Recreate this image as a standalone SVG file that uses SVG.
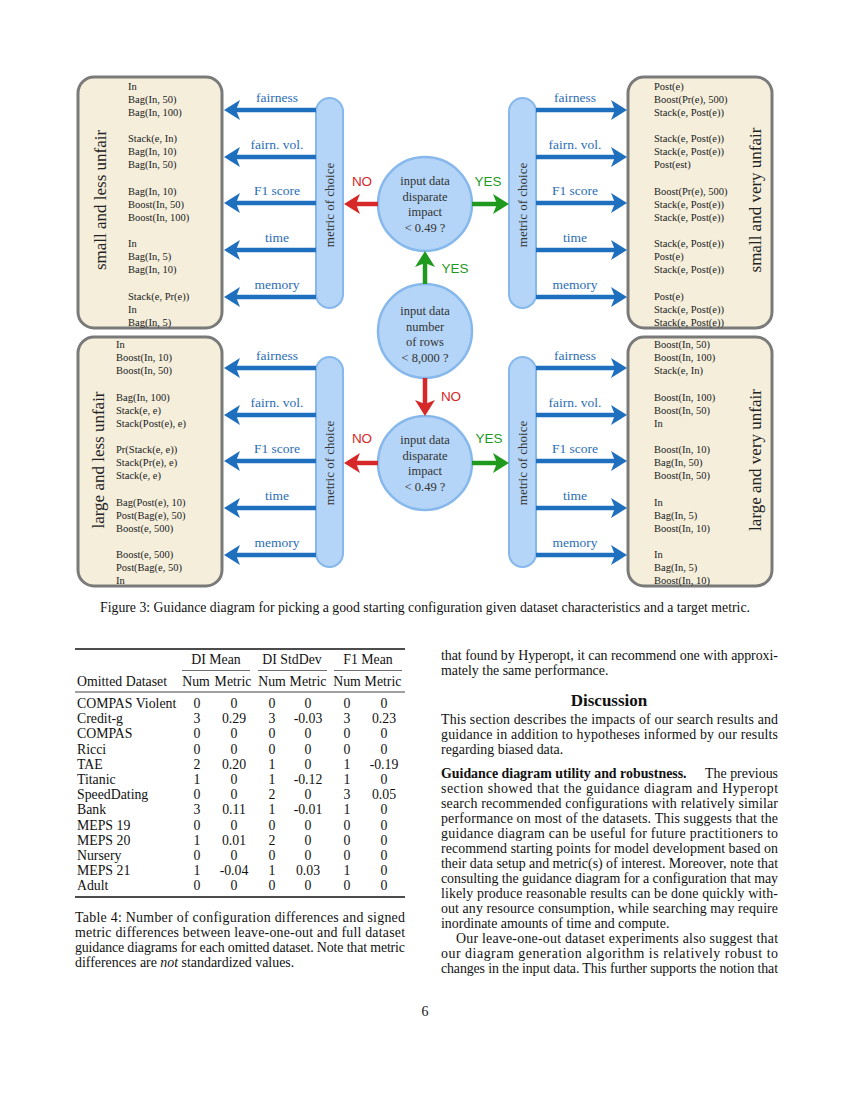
<svg xmlns="http://www.w3.org/2000/svg" width="850" height="1100" viewBox="0 0 850 1100">
<style>
.box{fill:#f4eedb;stroke:#7a7a7a;stroke-width:3}
.bar{fill:#b4d5f7;stroke:#86b8ec;stroke-width:2}
.circ{fill:#b4d5f7;stroke:#86b8ec;stroke-width:2.5}
.lst{font-family:"Liberation Serif",serif;font-size:10.5px;fill:#222}
.vlab{font-family:"Liberation Serif",serif;font-size:17px;fill:#222;text-anchor:middle}
.mlab{font-family:"Liberation Serif",serif;font-size:13px;fill:#333;text-anchor:middle}
.ctext{font-family:"Liberation Serif",serif;font-size:12.5px;fill:#333;text-anchor:middle}
.blab{font-family:"Liberation Serif",serif;font-size:13.5px;fill:#2b6db5;text-anchor:middle}
.no{font-family:"Liberation Sans",sans-serif;font-size:13.5px;fill:#d62828;text-anchor:middle}
.yes{font-family:"Liberation Sans",sans-serif;font-size:13.5px;fill:#1f9a1f;text-anchor:middle}
.ab{stroke:#1f6fbf;stroke-width:4.5;fill:none}
.ar{stroke:#d62828;stroke-width:4.5;fill:none}
.ag{stroke:#1f9a1f;stroke-width:4.5;fill:none}
.body{font-family:"Liberation Serif",serif;font-size:13.9px;fill:#111}
.tb{font-family:"Liberation Serif",serif;font-size:13.8px;fill:#111}
.c{text-anchor:middle}
.rule{stroke:#111}
</style>
<defs>
<marker id="hb" viewBox="0 0 16 20" refX="4" refY="10" markerWidth="16" markerHeight="20" orient="auto" markerUnits="userSpaceOnUse"><path d="M0,0 L16,10 L0,20 L4,10 Z" fill="#1f6fbf"/></marker>
<marker id="hr" viewBox="0 0 16 20" refX="4" refY="10" markerWidth="16" markerHeight="20" orient="auto" markerUnits="userSpaceOnUse"><path d="M0,0 L16,10 L0,20 L4,10 Z" fill="#d62828"/></marker>
<marker id="hg" viewBox="0 0 16 20" refX="4" refY="10" markerWidth="16" markerHeight="20" orient="auto" markerUnits="userSpaceOnUse"><path d="M0,0 L16,10 L0,20 L4,10 Z" fill="#1f9a1f"/></marker>
</defs>
<rect width="850" height="1100" fill="#fff"/>

<!-- Boxes -->
<g id="box-small-less">
<rect class="box" x="78" y="77" width="144" height="251" rx="16"/>
<text class="vlab" transform="translate(106,200) rotate(-90)">small and less unfair</text>
<text class="lst"><tspan x="128" y="90">In</tspan><tspan x="128" y="103">Bag(In, 50)</tspan><tspan x="128" y="116">Bag(In, 100)</tspan>
<tspan x="128" y="142">Stack(e, In)</tspan><tspan x="128" y="155">Bag(In, 10)</tspan><tspan x="128" y="168">Bag(In, 50)</tspan>
<tspan x="128" y="195">Bag(In, 10)</tspan><tspan x="128" y="208">Boost(In, 50)</tspan><tspan x="128" y="221">Boost(In, 100)</tspan>
<tspan x="128" y="247">In</tspan><tspan x="128" y="260">Bag(In, 5)</tspan><tspan x="128" y="273">Bag(In, 10)</tspan>
<tspan x="128" y="300">Stack(e, Pr(e))</tspan><tspan x="128" y="313">In</tspan><tspan x="128" y="326">Bag(In, 5)</tspan></text>
</g>
<g id="box-small-very">
<rect class="box" x="628" y="77" width="144" height="251" rx="16"/>
<text class="vlab" transform="translate(761,200) rotate(-90)">small and very unfair</text>
<text class="lst"><tspan x="654" y="90">Post(e)</tspan><tspan x="654" y="103">Boost(Pr(e), 500)</tspan><tspan x="654" y="116">Stack(e, Post(e))</tspan>
<tspan x="654" y="142">Stack(e, Post(e))</tspan><tspan x="654" y="155">Stack(e, Post(e))</tspan><tspan x="654" y="168">Post(est)</tspan>
<tspan x="654" y="195">Boost(Pr(e), 500)</tspan><tspan x="654" y="208">Stack(e, Post(e))</tspan><tspan x="654" y="221">Stack(e, Post(e))</tspan>
<tspan x="654" y="247">Stack(e, Post(e))</tspan><tspan x="654" y="260">Post(e)</tspan><tspan x="654" y="273">Stack(e, Post(e))</tspan>
<tspan x="654" y="300">Post(e)</tspan><tspan x="654" y="313">Stack(e, Post(e))</tspan><tspan x="654" y="326">Stack(e, Post(e))</tspan></text>
</g>
<g id="box-large-less">
<rect class="box" x="78" y="337" width="144" height="249" rx="16"/>
<text class="vlab" transform="translate(104,460) rotate(-90)">large and less unfair</text>
<text class="lst"><tspan x="116" y="348">In</tspan><tspan x="116" y="361">Boost(In, 10)</tspan><tspan x="116" y="374">Boost(In, 50)</tspan>
<tspan x="116" y="401">Bag(In, 100)</tspan><tspan x="116" y="414">Stack(e, e)</tspan><tspan x="116" y="427">Stack(Post(e), e)</tspan>
<tspan x="116" y="453">Pr(Stack(e, e))</tspan><tspan x="116" y="466">Stack(Pr(e), e)</tspan><tspan x="116" y="479">Stack(e, e)</tspan>
<tspan x="116" y="506">Bag(Post(e), 10)</tspan><tspan x="116" y="519">Post(Bag(e), 50)</tspan><tspan x="116" y="532">Boost(e, 500)</tspan>
<tspan x="116" y="558">Boost(e, 500)</tspan><tspan x="116" y="571">Post(Bag(e, 50)</tspan><tspan x="116" y="584">In</tspan></text>
</g>
<g id="box-large-very">
<rect class="box" x="628" y="337" width="144" height="249" rx="16"/>
<text class="vlab" transform="translate(761,460) rotate(-90)">large and very unfair</text>
<text class="lst"><tspan x="654" y="348">Boost(In, 50)</tspan><tspan x="654" y="361">Boost(In, 100)</tspan><tspan x="654" y="374">Stack(e, In)</tspan>
<tspan x="654" y="401">Boost(In, 100)</tspan><tspan x="654" y="414">Boost(In, 50)</tspan><tspan x="654" y="427">In</tspan>
<tspan x="654" y="453">Boost(In, 10)</tspan><tspan x="654" y="466">Bag(In, 50)</tspan><tspan x="654" y="479">Boost(In, 50)</tspan>
<tspan x="654" y="506">In</tspan><tspan x="654" y="519">Bag(In, 5)</tspan><tspan x="654" y="532">Boost(In, 10)</tspan>
<tspan x="654" y="558">In</tspan><tspan x="654" y="571">Bag(In, 5)</tspan><tspan x="654" y="584">Boost(In, 10)</tspan></text>
</g>

<!-- Metric bars -->
<g id="bar-top-left"><rect class="bar" x="316" y="98" width="27" height="210" rx="13.5"/><text class="mlab" transform="translate(334,205) rotate(-90)">metric of choice</text></g>
<g id="bar-top-right"><rect class="bar" x="509" y="98" width="27" height="210" rx="13.5"/><text class="mlab" transform="translate(527,205) rotate(-90)">metric of choice</text></g>
<g id="bar-bottom-left"><rect class="bar" x="316" y="357" width="27" height="210" rx="13.5"/><text class="mlab" transform="translate(334,463) rotate(-90)">metric of choice</text></g>
<g id="bar-bottom-right"><rect class="bar" x="509" y="357" width="27" height="210" rx="13.5"/><text class="mlab" transform="translate(527,463) rotate(-90)">metric of choice</text></g>

<!-- Decision circles -->
<g id="di-top"><circle class="circ" cx="425" cy="204" r="47"/><text class="ctext"><tspan x="425" y="185">input data</tspan><tspan x="425" y="200.5">disparate</tspan><tspan x="425" y="216">impact</tspan><tspan x="425" y="231.5">&lt; 0.49 ?</tspan></text></g>
<g id="rows"><circle class="circ" cx="425" cy="331" r="47"/><text class="ctext"><tspan x="425" y="315">input data</tspan><tspan x="425" y="330.5">number</tspan><tspan x="425" y="346">of rows</tspan><tspan x="425" y="361.5">&lt; 8,000 ?</tspan></text></g>
<g id="di-bottom"><circle class="circ" cx="425" cy="463" r="47"/><text class="ctext"><tspan x="425" y="444">input data</tspan><tspan x="425" y="459.5">disparate</tspan><tspan x="425" y="475">impact</tspan><tspan x="425" y="490.5">&lt; 0.49 ?</tspan></text></g>

<!-- Connectors -->
<g id="connectors">
<line class="ab" x1="316" y1="110" x2="236" y2="110" marker-end="url(#hb)"/>
<line class="ab" x1="316" y1="157" x2="236" y2="157" marker-end="url(#hb)"/>
<line class="ab" x1="316" y1="203" x2="236" y2="203" marker-end="url(#hb)"/>
<line class="ab" x1="316" y1="250" x2="236" y2="250" marker-end="url(#hb)"/>
<line class="ab" x1="316" y1="297" x2="236" y2="297" marker-end="url(#hb)"/>
<line class="ab" x1="536" y1="110" x2="615" y2="110" marker-end="url(#hb)"/>
<line class="ab" x1="536" y1="157" x2="615" y2="157" marker-end="url(#hb)"/>
<line class="ab" x1="536" y1="203" x2="615" y2="203" marker-end="url(#hb)"/>
<line class="ab" x1="536" y1="250" x2="615" y2="250" marker-end="url(#hb)"/>
<line class="ab" x1="536" y1="297" x2="615" y2="297" marker-end="url(#hb)"/>
<line class="ab" x1="316" y1="368" x2="236" y2="368" marker-end="url(#hb)"/>
<line class="ab" x1="316" y1="415" x2="236" y2="415" marker-end="url(#hb)"/>
<line class="ab" x1="316" y1="461" x2="236" y2="461" marker-end="url(#hb)"/>
<line class="ab" x1="316" y1="508" x2="236" y2="508" marker-end="url(#hb)"/>
<line class="ab" x1="316" y1="555" x2="236" y2="555" marker-end="url(#hb)"/>
<line class="ab" x1="536" y1="368" x2="615" y2="368" marker-end="url(#hb)"/>
<line class="ab" x1="536" y1="415" x2="615" y2="415" marker-end="url(#hb)"/>
<line class="ab" x1="536" y1="461" x2="615" y2="461" marker-end="url(#hb)"/>
<line class="ab" x1="536" y1="508" x2="615" y2="508" marker-end="url(#hb)"/>
<line class="ab" x1="536" y1="555" x2="615" y2="555" marker-end="url(#hb)"/>
<line class="ar" x1="378" y1="204" x2="356" y2="204" marker-end="url(#hr)"/>
<line class="ag" x1="472" y1="204" x2="497" y2="204" marker-end="url(#hg)"/>
<line class="ag" x1="425" y1="284" x2="425" y2="263" marker-end="url(#hg)"/>
<line class="ar" x1="425" y1="378" x2="425" y2="404" marker-end="url(#hr)"/>
<line class="ar" x1="378" y1="463" x2="356" y2="463" marker-end="url(#hr)"/>
<line class="ag" x1="472" y1="463" x2="497" y2="463" marker-end="url(#hg)"/>
<text class="blab" x="277" y="102">fairness</text>
<text class="blab" x="277" y="149">fairn. vol.</text>
<text class="blab" x="277" y="195">F1 score</text>
<text class="blab" x="277" y="242">time</text>
<text class="blab" x="277" y="289">memory</text>
<text class="blab" x="575" y="102">fairness</text>
<text class="blab" x="575" y="149">fairn. vol.</text>
<text class="blab" x="575" y="195">F1 score</text>
<text class="blab" x="575" y="242">time</text>
<text class="blab" x="575" y="289">memory</text>
<text class="blab" x="277" y="360">fairness</text>
<text class="blab" x="277" y="407">fairn. vol.</text>
<text class="blab" x="277" y="453">F1 score</text>
<text class="blab" x="277" y="500">time</text>
<text class="blab" x="277" y="547">memory</text>
<text class="blab" x="575" y="360">fairness</text>
<text class="blab" x="575" y="407">fairn. vol.</text>
<text class="blab" x="575" y="453">F1 score</text>
<text class="blab" x="575" y="500">time</text>
<text class="blab" x="575" y="547">memory</text>
<text class="no" x="362" y="186">NO</text>
<text class="yes" x="488" y="186">YES</text>
<text class="yes" x="455" y="273">YES</text>
<text class="no" x="451" y="401">NO</text>
<text class="no" x="362" y="443">NO</text>
<text class="yes" x="489" y="443">YES</text>
</g>

<!-- Figure caption -->
<text class="body" x="100" y="612" textLength="650" lengthAdjust="spacingAndGlyphs">Figure 3: Guidance diagram for picking a good starting configuration given dataset characteristics and a target metric.</text>

<!-- Table -->
<g id="table">
<line class="rule" x1="75" y1="649" x2="405" y2="649" stroke-width="1.3"/>
<text class="tb c" x="216" y="664">DI Mean</text>
<text class="tb c" x="292" y="664">DI StdDev</text>
<text class="tb c" x="368" y="664">F1 Mean</text>
<line class="rule" x1="182" y1="670.5" x2="250" y2="670.5" stroke-width="0.6"/>
<line class="rule" x1="258" y1="670.5" x2="327" y2="670.5" stroke-width="0.6"/>
<line class="rule" x1="334" y1="670.5" x2="402" y2="670.5" stroke-width="0.6"/>
<text class="tb" x="77" y="686">Omitted Dataset</text>
<text class="tb c" x="196" y="686">Num</text>
<text class="tb c" x="233" y="686">Metric</text>
<text class="tb c" x="272" y="686">Num</text>
<text class="tb c" x="308" y="686">Metric</text>
<text class="tb c" x="347" y="686">Num</text>
<text class="tb c" x="383" y="686">Metric</text>
<line class="rule" x1="75" y1="692" x2="405" y2="692" stroke-width="0.8"/>
<text class="tb"><tspan x="77" y="708">COMPAS Violent</tspan><tspan x="77" y="723.2">Credit-g</tspan><tspan x="77" y="738.4">COMPAS</tspan><tspan x="77" y="753.6">Ricci</tspan><tspan x="77" y="768.8">TAE</tspan><tspan x="77" y="784">Titanic</tspan><tspan x="77" y="799.2">SpeedDating</tspan><tspan x="77" y="814.4">Bank</tspan><tspan x="77" y="829.6">MEPS 19</tspan><tspan x="77" y="844.8">MEPS 20</tspan><tspan x="77" y="860">Nursery</tspan><tspan x="77" y="875.2">MEPS 21</tspan><tspan x="77" y="890.4">Adult</tspan></text>
<text class="tb c"><tspan x="197" y="708">0</tspan><tspan x="197" y="723.2">3</tspan><tspan x="197" y="738.4">0</tspan><tspan x="197" y="753.6">0</tspan><tspan x="197" y="768.8">2</tspan><tspan x="197" y="784">1</tspan><tspan x="197" y="799.2">0</tspan><tspan x="197" y="814.4">3</tspan><tspan x="197" y="829.6">0</tspan><tspan x="197" y="844.8">1</tspan><tspan x="197" y="860">0</tspan><tspan x="197" y="875.2">1</tspan><tspan x="197" y="890.4">0</tspan></text>
<text class="tb c"><tspan x="234" y="708">0</tspan><tspan x="234" y="723.2">0.29</tspan><tspan x="234" y="738.4">0</tspan><tspan x="234" y="753.6">0</tspan><tspan x="234" y="768.8">0.20</tspan><tspan x="234" y="784">0</tspan><tspan x="234" y="799.2">0</tspan><tspan x="234" y="814.4">0.11</tspan><tspan x="234" y="829.6">0</tspan><tspan x="234" y="844.8">0.01</tspan><tspan x="234" y="860">0</tspan><tspan x="234" y="875.2">-0.04</tspan><tspan x="234" y="890.4">0</tspan></text>
<text class="tb c"><tspan x="272" y="708">0</tspan><tspan x="272" y="723.2">3</tspan><tspan x="272" y="738.4">0</tspan><tspan x="272" y="753.6">0</tspan><tspan x="272" y="768.8">1</tspan><tspan x="272" y="784">1</tspan><tspan x="272" y="799.2">2</tspan><tspan x="272" y="814.4">1</tspan><tspan x="272" y="829.6">0</tspan><tspan x="272" y="844.8">2</tspan><tspan x="272" y="860">0</tspan><tspan x="272" y="875.2">1</tspan><tspan x="272" y="890.4">0</tspan></text>
<text class="tb c"><tspan x="308" y="708">0</tspan><tspan x="308" y="723.2">-0.03</tspan><tspan x="308" y="738.4">0</tspan><tspan x="308" y="753.6">0</tspan><tspan x="308" y="768.8">0</tspan><tspan x="308" y="784">-0.12</tspan><tspan x="308" y="799.2">0</tspan><tspan x="308" y="814.4">-0.01</tspan><tspan x="308" y="829.6">0</tspan><tspan x="308" y="844.8">0</tspan><tspan x="308" y="860">0</tspan><tspan x="308" y="875.2">0.03</tspan><tspan x="308" y="890.4">0</tspan></text>
<text class="tb c"><tspan x="347" y="708">0</tspan><tspan x="347" y="723.2">3</tspan><tspan x="347" y="738.4">0</tspan><tspan x="347" y="753.6">0</tspan><tspan x="347" y="768.8">1</tspan><tspan x="347" y="784">1</tspan><tspan x="347" y="799.2">3</tspan><tspan x="347" y="814.4">1</tspan><tspan x="347" y="829.6">0</tspan><tspan x="347" y="844.8">0</tspan><tspan x="347" y="860">0</tspan><tspan x="347" y="875.2">1</tspan><tspan x="347" y="890.4">0</tspan></text>
<text class="tb c"><tspan x="384" y="708">0</tspan><tspan x="384" y="723.2">0.23</tspan><tspan x="384" y="738.4">0</tspan><tspan x="384" y="753.6">0</tspan><tspan x="384" y="768.8">-0.19</tspan><tspan x="384" y="784">0</tspan><tspan x="384" y="799.2">0.05</tspan><tspan x="384" y="814.4">0</tspan><tspan x="384" y="829.6">0</tspan><tspan x="384" y="844.8">0</tspan><tspan x="384" y="860">0</tspan><tspan x="384" y="875.2">0</tspan><tspan x="384" y="890.4">0</tspan></text>
<line class="rule" x1="75" y1="897" x2="405" y2="897" stroke-width="1.3"/>
</g>

<!-- Table caption -->
<text class="body" x="75" y="922" textLength="330" lengthAdjust="spacing">Table 4: Number of configuration differences and signed</text>
<text class="body" x="75" y="937" textLength="330" lengthAdjust="spacing">metric differences between leave-one-out and full dataset</text>
<text class="body" x="75" y="952" textLength="330" lengthAdjust="spacing">guidance diagrams for each omitted dataset. Note that metric</text>
<text class="body" x="75" y="967">differences are <tspan font-style="italic">not</tspan> standardized values.</text>

<!-- Right column -->
<text class="body" x="441" y="660" textLength="337" lengthAdjust="spacing">that found by Hyperopt, it can recommend one with approxi-</text>
<text class="body" x="441" y="675">mately the same performance.</text>
<text x="609" y="706" text-anchor="middle" font-family="Liberation Serif, serif" font-size="17" font-weight="bold" fill="#111">Discussion</text>
<text class="body" x="441" y="724" textLength="337" lengthAdjust="spacing">This section describes the impacts of our search results and</text>
<text class="body" x="441" y="739" textLength="337" lengthAdjust="spacing">guidance in addition to hypotheses informed by our results</text>
<text class="body" x="441" y="754">regarding biased data.</text>
<text class="body" x="441" y="778" font-weight="bold">Guidance diagram utility and robustness.</text>
<text class="body" x="778" y="778" text-anchor="end">The previous</text>
<text class="body" x="441" y="793" textLength="337" lengthAdjust="spacing">section showed that the guidance diagram and Hyperopt</text>
<text class="body" x="441" y="808" textLength="337" lengthAdjust="spacing">search recommended configurations with relatively similar</text>
<text class="body" x="441" y="823" textLength="337" lengthAdjust="spacing">performance on most of the datasets. This suggests that the</text>
<text class="body" x="441" y="838" textLength="337" lengthAdjust="spacing">guidance diagram can be useful for future practitioners to</text>
<text class="body" x="441" y="853" textLength="337" lengthAdjust="spacing">recommend starting points for model development based on</text>
<text class="body" x="441" y="868" textLength="337" lengthAdjust="spacing">their data setup and metric(s) of interest. Moreover, note that</text>
<text class="body" x="441" y="883" textLength="337" lengthAdjust="spacing">consulting the guidance diagram for a configuration that may</text>
<text class="body" x="441" y="898" textLength="337" lengthAdjust="spacing">likely produce reasonable results can be done quickly with-</text>
<text class="body" x="441" y="913" textLength="337" lengthAdjust="spacing">out any resource consumption, while searching may require</text>
<text class="body" x="441" y="928">inordinate amounts of time and compute.</text>
<text class="body" x="456" y="943" textLength="322" lengthAdjust="spacing">Our leave-one-out dataset experiments also suggest that</text>
<text class="body" x="441" y="958" textLength="337" lengthAdjust="spacing">our diagram generation algorithm is relatively robust to</text>
<text class="body" x="441" y="973" textLength="337" lengthAdjust="spacing">changes in the input data. This further supports the notion that</text>

<text class="body" x="425" y="1016" text-anchor="middle">6</text>
</svg>
